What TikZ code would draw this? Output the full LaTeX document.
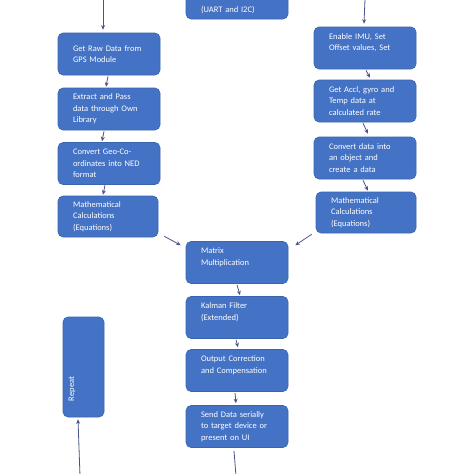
\documentclass[tikz,border=0pt]{standalone}
\usepackage{fontspec}
\setmainfont{Carlito}
\usetikzlibrary{arrows.meta,calc}
\definecolor{boxblue}{HTML}{4472C4}
\definecolor{boxedge}{HTML}{3B64AE}
\definecolor{arrowc}{HTML}{4A5585}
\begin{document}
\begin{tikzpicture}[x=1pt,y=-1pt,
 box/.style={draw=boxedge, line width=0.6pt, fill=boxblue, rounded corners=5pt,
   minimum width=102pt, minimum height=42pt, text width=72pt, align=left,
   text=white, font=\fontsize{8.5}{11.7}\selectfont, inner sep=0pt},
 conn/.style={draw=arrowc, line width=0.8pt, -{Stealth[length=4.5pt,width=4pt]}},
 plain/.style={draw=arrowc, line width=0.8pt}]
\clip (0,0) rectangle (474,474);
\fill[white] (0,0) rectangle (474,474);

% centre column
\node[box, minimum height=30pt] (top) at (237,4) {communication\\(UART and I2C)};
\node[box] (M) at (237,262.5) {Matrix\\Multiplication\\~};
\node[box] (K) at (237,317.5) {Kalman Filter\\(Extended)\\~};
\node[box] (O) at (237,370.5) {Output Correction\\and Compensation\\~};
\node[box] (S) at (237,426.5) {Send Data serially\\to target device or\\present on UI};

% left column
\node[box] (L1) at (109,54) {Get Raw Data from\\GPS Module};
\node[box] (L2) at (109,109) {Extract and Pass\\data through Own\\Library};
\node[box] (L3) at (109,163.5) {Convert Geo-Co-\\ordinates into NED\\format};
\node[box, minimum width=100pt, minimum height=41pt, text width=70pt] (L4) at (108,216.5) {Mathematical\\Calculations\\(Equations)};

% right column
\node[box] (R1) at (365,48) {Enable IMU, Set\\Offset values, Set\\~};
\node[box] (R2) at (365,101) {Get Accl, gyro and\\Temp data at\\calculated rate};
\node[box] (R3) at (365,158) {Convert data into\\an object and\\create a data};
\node[box, minimum width=100pt, minimum height=41pt, text width=70pt] (R4) at (366,212.5) {Mathematical\\Calculations\\(Equations)};

% repeat box
\node[box, minimum width=41pt, minimum height=100pt, text width=30pt] (rep) at (83.5,367) {};
\node[text=white, font=\fontsize{8.5}{11.7}\selectfont, rotate=90, inner sep=0pt] (reptxt) at (72,389) {Repeat};

% free ends
\coordinate (tl) at (103,-1);
\coordinate (tr) at (365,-1);
\coordinate (sb) at (236,476);
\coordinate (rb) at (80,476);

% connectors
\draw[conn] (tl) -- ($(L1.north)+(-6,-3)$);
\draw[conn] ($(L1.south)+(-1,1)$) -- ($(L2.north)+(-3,-1)$);
\draw[conn] ($(L2.south)+(-5,1)$) -- ($(L3.north)+(-7,-1)$);
\draw[conn] ($(L3.south)+(-4,0.5)$) -- ($(L4.north)+(-5,-1)$);
\draw[conn] ($(L4.south east)+(6,-1)$) -- ($(M.north west)+(-5,4)$);
\draw[conn] ($(R4.south west)+(-4,1)$) -- ($(M.north east)+(7,4)$);
\draw[conn] (tr) -- ($(R1.north)+(-1,-3)$);
\draw[conn] ($(R1.south)+(1,1)$) -- ($(R2.north)+(5,-2)$);
\draw[conn] ($(R2.south)+(-2,1)$) -- ($(R3.north)+(3,-3)$);
\draw[conn] ($(R3.south)+(-2,1)$) -- ($(R4.north)+(2,-1)$);
\draw[conn] ($(M.south)+(0,1)$) -- ($(K.north)+(3,-1)$);
\draw[conn] ($(K.south)+(-1,1)$) -- ($(O.north)+(1,-2)$);
\draw[conn] ($(O.south)+(-2,1)$) -- ($(S.north)+(-1,-2)$);
\draw[plain] ($(S.south)+(-3,3)$) -- (sb);
\draw[conn] (rb) -- ($(rep.south)+(-5.5,2)$);
\end{tikzpicture}
\end{document}
